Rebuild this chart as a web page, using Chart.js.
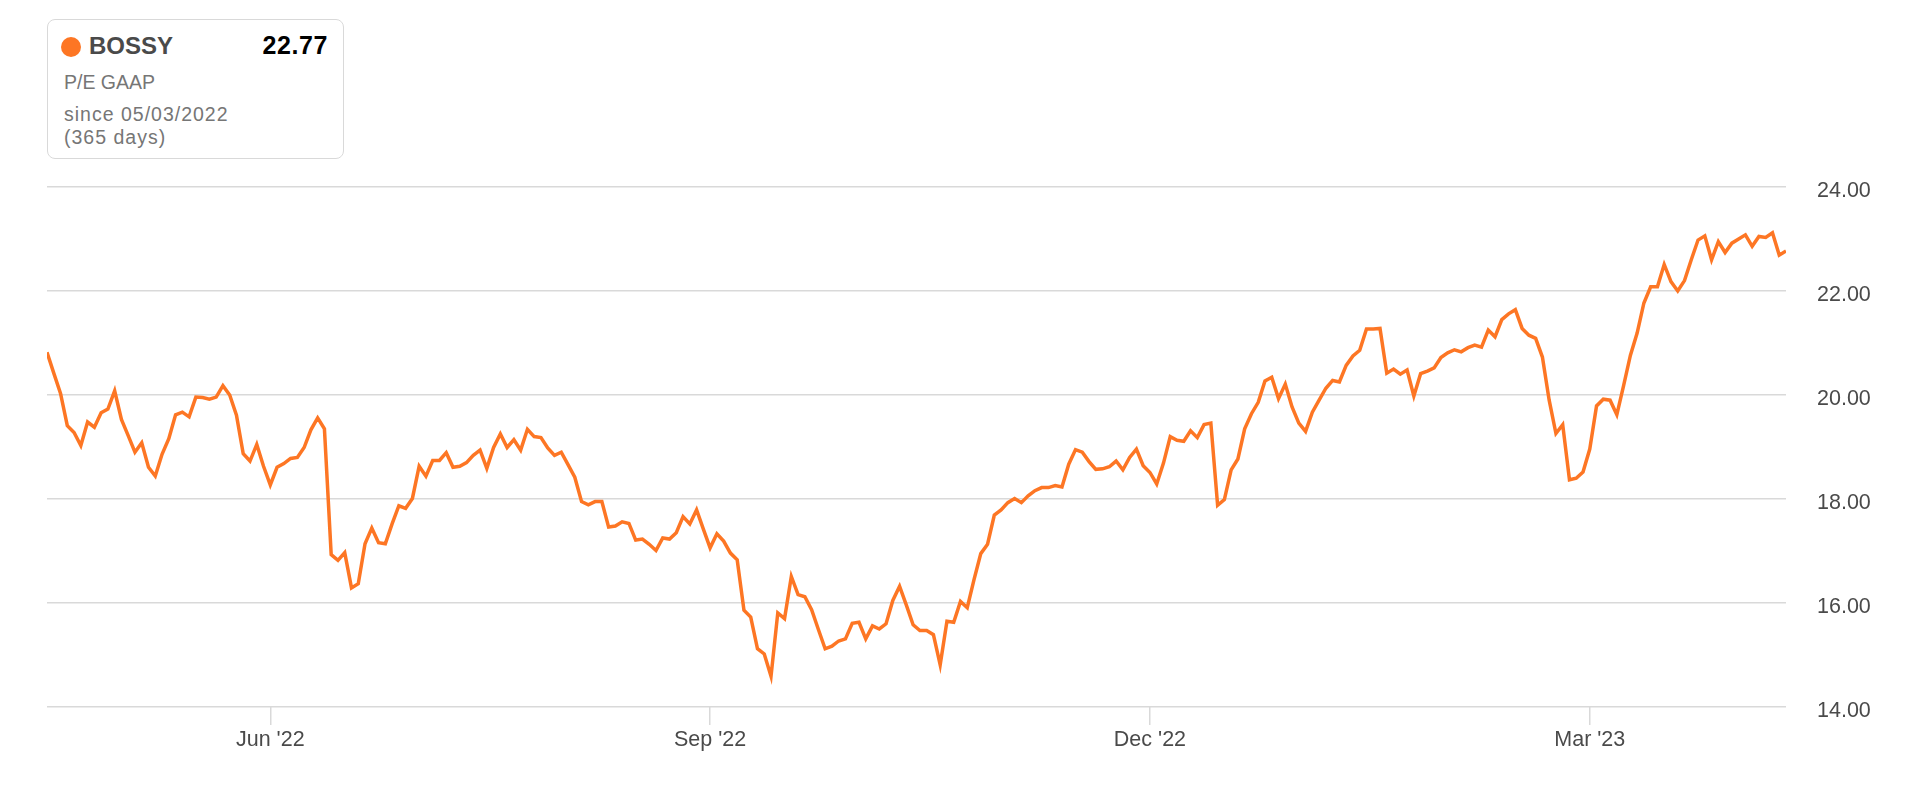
<!DOCTYPE html>
<html>
<head>
<meta charset="utf-8">
<script src="https://cdn.jsdelivr.net/npm/chart.js@4"></script>
<style>
	body { margin: 0; background: #fff; font-family: "Liberation Sans", Arial, Helvetica, sans-serif; }
	#wrap { position: relative; width: 1919px; height: 801px; }
	#box { position: absolute; left: 47px; top: 19px; width: 295px; height: 138px; border: 1.5px solid #d9d9d9; border-radius: 8px; background: #fff; }
	.t { position: absolute; line-height: 1; white-space: nowrap; }
	#dot { position: absolute; left: 13px; top: 17px; width: 20px; height: 20px; border-radius: 50%; background: #fd7624; }
</style>
</head>
<body>
<div id="wrap">
	<canvas id="peChart"></canvas>
	<div id="box">
		<div id="dot"></div>
		<div class="t" style="left:41px; top:14px; font-size:24px; font-weight:bold; color:#4a4a4a;">BOSSY</div>
		<div class="t" style="right:15px; top:13px; font-size:25px; font-weight:bold; color:#000; letter-spacing:0.6px;">22.77</div>
		<div class="t" style="left:16px; top:53px; font-size:19.5px; color:#767676;">P/E GAAP</div>
		<div class="t" style="left:16px; top:85px; font-size:19.5px; color:#767676; letter-spacing:1px;">since 05/03/2022</div>
		<div class="t" style="left:16px; top:108px; font-size:19.5px; color:#767676; letter-spacing:1px;">(365 days)</div>
	</div>
</div>
<script>
	// P/E GAAP, one value per trading day
	var pe_values = [
		20.82, 20.42, 20.03, 19.41, 19.28, 19.03, 19.48, 19.38, 19.66, 19.73,
		20.08, 19.53, 19.22, 18.90, 19.08, 18.61, 18.44, 18.86, 19.16, 19.62,
		19.67, 19.58, 19.96, 19.95, 19.92, 19.96, 20.18, 20.00, 19.61, 18.87,
		18.73, 19.05, 18.63, 18.27, 18.61, 18.68, 18.78, 18.80, 18.99, 19.33,
		19.56, 19.35, 16.93, 16.82, 16.97, 16.29, 16.37, 17.14, 17.44, 17.16,
		17.14, 17.52, 17.87, 17.82, 18.01, 18.63, 18.44, 18.74, 18.74, 18.89,
		18.61, 18.63, 18.70, 18.84, 18.94, 18.59, 18.99, 19.25, 18.99, 19.14,
		18.94, 19.34, 19.20, 19.18, 18.98, 18.84, 18.90, 18.66, 18.42, 17.95,
		17.89, 17.95, 17.95, 17.46, 17.48, 17.56, 17.53, 17.21, 17.23, 17.13,
		17.01, 17.25, 17.23, 17.35, 17.66, 17.52, 17.79, 17.42, 17.06, 17.33,
		17.19, 16.96, 16.83, 15.86, 15.73, 15.12, 15.02, 14.59, 15.81, 15.70,
		16.51, 16.16, 16.12, 15.87, 15.49, 15.12, 15.17, 15.27, 15.31, 15.61,
		15.63, 15.31, 15.56, 15.50, 15.60, 16.05, 16.32, 15.96, 15.58, 15.47,
		15.47, 15.39, 14.81, 15.65, 15.63, 16.03, 15.91, 16.45, 16.95, 17.13,
		17.69, 17.79, 17.93, 18.01, 17.93, 18.06, 18.16, 18.22, 18.22, 18.26,
		18.23, 18.67, 18.95, 18.90, 18.72, 18.57, 18.58, 18.62, 18.73, 18.56,
		18.80, 18.96, 18.64, 18.51, 18.29, 18.69, 19.20, 19.13, 19.11, 19.31,
		19.18, 19.43, 19.46, 17.88, 17.99, 18.56, 18.77, 19.35, 19.64, 19.86,
		20.27, 20.34, 19.93, 20.21, 19.77, 19.46, 19.30, 19.67, 19.90, 20.13,
		20.28, 20.25, 20.57, 20.75, 20.86, 21.27, 21.27, 21.28, 20.42, 20.50,
		20.40, 20.48, 19.98, 20.41, 20.46, 20.52, 20.72, 20.81, 20.87, 20.83,
		20.91, 20.96, 20.92, 21.25, 21.12, 21.45, 21.56, 21.64, 21.28, 21.15,
		21.09, 20.73, 19.90, 19.26, 19.43, 18.37, 18.40, 18.52, 18.96, 19.79,
		19.92, 19.90, 19.62, 20.18, 20.76, 21.19, 21.77, 22.08, 22.08, 22.51,
		22.18, 22.00, 22.20, 22.60, 22.98, 23.06, 22.60, 22.95, 22.74, 22.92,
		23.00, 23.08, 22.86, 23.05, 23.03, 23.12, 22.69, 22.77
	];
	// first trading day of each labelled month (index into pe_values)
	var month_ticks = [33, 98, 163, 228];
	var month_labels = ["Jun '22", "Sep '22", "Dec '22", "Mar '23"];
	var y_min = 14, y_max = 24, y_step = 2;

	var points = [];
	for (var i = 0; i < pe_values.length; i++) {
		points.push({x: i, y: pe_values[i]});
	}

	var ctx = document.getElementById("peChart");
	new Chart(ctx, {
		type: "line",
		data: {
			datasets: [{
				label: "BOSSY",
				data: points,
				borderColor: "#fd7624",
				borderWidth: 3.5,
				pointRadius: 0,
				tension: 0,
				fill: false
			}]
		},
		options: {
			responsive: true,
			maintainAspectRatio: false,
			animation: false,
			layout: { padding: { left: 47, right: 0, top: 187, bottom: 0 } },
			plugins: { legend: { display: false }, tooltip: { enabled: false } },
			scales: {
				x: {
					type: "linear",
					min: 0,
					max: pe_values.length - 1,
					afterBuildTicks: function (s) {
						s.ticks = month_ticks.map(function (v) { return {value: v}; });
					},
					afterFit: function (s) { s.height = 94; },
					ticks: {
						autoSkip: false,
						maxRotation: 0,
						padding: 2,
						color: "#4a4a4a",
						font: { family: "'Liberation Sans', Arial, sans-serif", size: 21.5 },
						callback: function (v) { return month_labels[month_ticks.indexOf(v)]; }
					},
					grid: { drawOnChartArea: false, tickLength: 18, color: "#d9d9d9", lineWidth: 1.5 },
					border: { display: false }
				},
				y: {
					position: "right",
					min: y_min,
					max: y_max,
					afterFit: function (s) { s.width = 133; },
					ticks: {
						stepSize: y_step,
						padding: 31,
						labelOffset: 4,
						color: "#4a4a4a",
						font: { family: "'Liberation Sans', Arial, sans-serif", size: 21.5 },
						callback: function (v) { return v.toFixed(2); }
					},
					grid: { color: "#d9d9d9", lineWidth: 1.5, drawTicks: false },
					border: { display: false }
				}
			}
		}
	});
</script>
</body>
</html>
